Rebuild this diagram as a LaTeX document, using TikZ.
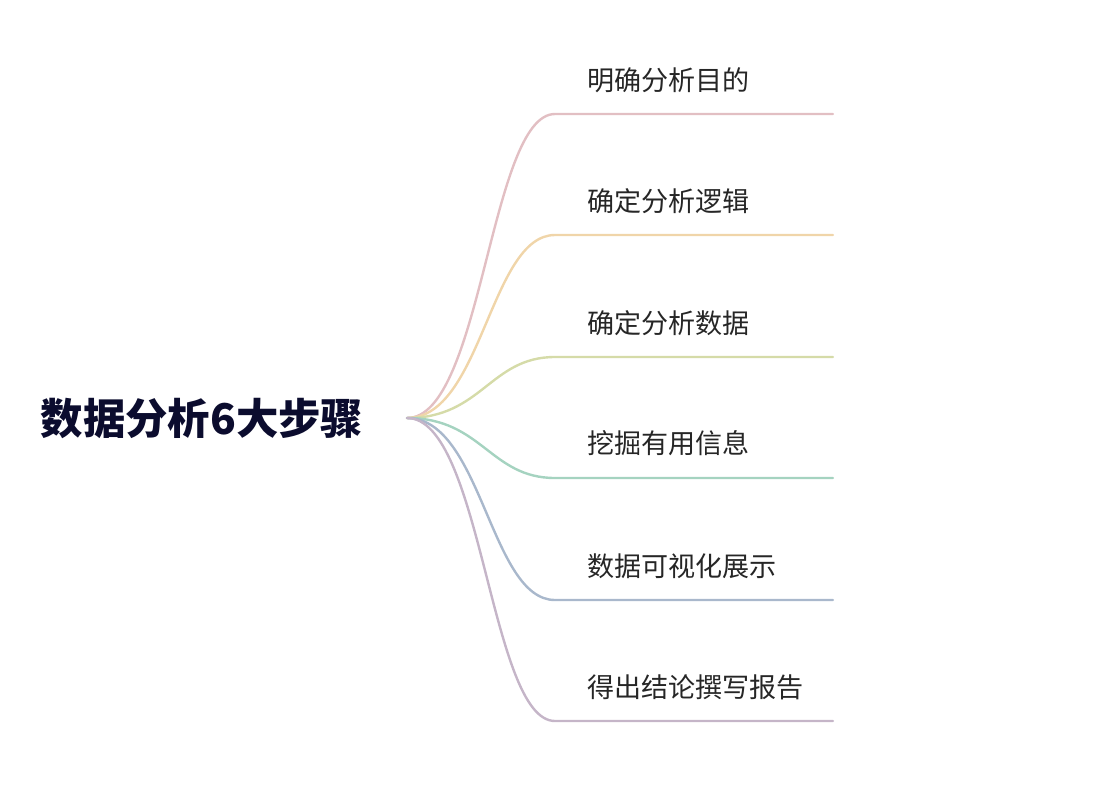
\documentclass[tikz,border=0pt]{standalone}
\usepackage{fontspec}
\newfontfamily\cjk{Noto Sans CJK SC}
\usetikzlibrary{positioning}
\definecolor{rootblue}{HTML}{0B0C2E}
\definecolor{bpink}{HTML}{E2BFC3}
\definecolor{borange}{HTML}{F0D5A9}
\definecolor{bolive}{HTML}{D5DBA8}
\definecolor{bteal}{HTML}{A5D3C0}
\definecolor{bslate}{HTML}{A9B8CC}
\definecolor{bmauve}{HTML}{C5B5C8}

\begin{document}
\begin{tikzpicture}[x=0.75pt, y=-0.75pt]
		\useasboundingbox (0,0) rectangle (1095,789);
		\tikzset{branch/.style={line width=1.8pt, line cap=round},
			step label/.style={anchor=west, inner sep=0pt, font=\cjk\fontsize{20.3}{20.3}\selectfont, text=black!85}}
		\node[font=\cjk\bfseries\fontsize{31.8}{31.8}\selectfont, text=rootblue, inner sep=0pt] (root) at (202,418) {数据分析6大步骤};
		\coordinate (o) at (407,418);
		% step labels
		\node[step label] (s1) at (587,80) {明确分析目的};
		\node[step label] (s2) at (587,201) {确定分析逻辑};
		\node[step label] (s3) at (587,323) {确定分析数据};
		\node[step label] (s4) at (587,443) {挖掘有用信息};
		\node[step label] (s5) at (587,566) {数据可视化展示};
		\node[step label] (s6) at (587,687) {得出结论撰写报告};
		% branch ends
		\coordinate (a1) at (555,114); \coordinate (b1) at (833,114);
		\coordinate (a2) at (555,235); \coordinate (b2) at (833,235);
		\coordinate (a3) at (555,357); \coordinate (b3) at (833,357);
		\coordinate (a4) at (555,478); \coordinate (b4) at (833,478);
		\coordinate (a5) at (555,600); \coordinate (b5) at (833,600);
		\coordinate (a6) at (555,721); \coordinate (b6) at (833,721);
		\foreach \i/\c in {1/bpink,2/borange,3/bolive,4/bteal,5/bslate,6/bmauve}
			\draw[branch, \c] (o) .. controls +(75,0) and +(-65,0) .. (a\i) -- (b\i);
	\end{tikzpicture}
\end{document}
